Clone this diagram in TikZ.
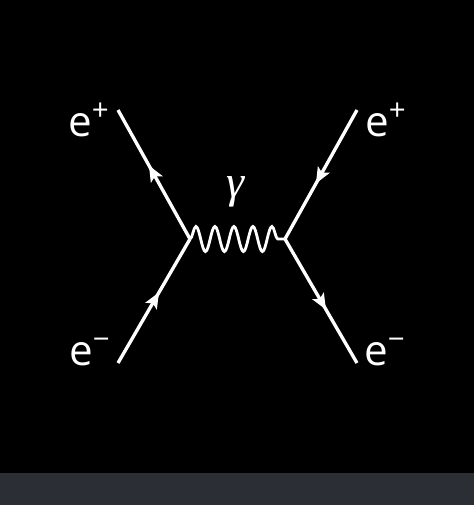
\documentclass[tikz,border=0pt]{standalone}
\usepackage{fontspec}
\setmainfont{Open Sans}
\newfontfamily\grkfont{Liberation Serif}
\usetikzlibrary{arrows.meta,decorations.markings,decorations.pathmorphing}

\tikzset{
  fermion/.style={draw=white, line width=1.9pt, postaction={decorate},
    decoration={markings, mark=at position 0.57 with
      {\arrow{Stealth[length=9pt,width=7.5pt,inset=2pt]}}}},
  photon/.style={draw=white, line width=1.6pt, decorate,
    decoration={snake, amplitude=0.25cm, segment length=0.38cm}},
  lbl/.style={text=white, font=\fontsize{24}{28}\selectfont, inner sep=0pt}
}

\begin{document}
\begin{tikzpicture}[x=0.02cm, y=-0.02cm]
      \fill [black] (0,0) rectangle (474,505);
      \fill [color={rgb,255:red,43;green,46;blue,53}] (0,473) rectangle (474,505);

      \coordinate (v1) at (190,239);
      \coordinate (v2) at (285,239);
      \coordinate (a1) at (118,110);
      \coordinate (b1) at (118,363);
      \coordinate (a2) at (357,110);
      \coordinate (b2) at (357,363);

      \draw [fermion] (v1) -- (a1);
      \draw [fermion] (b1) -- (v1);
      \draw [fermion] (a2) -- (v2);
      \draw [fermion] (v2) -- (b2);
      \draw [photon] (v1) -- (v2);

      \node [lbl] (ep1) at (89,120) {e\textsuperscript{+}};
      \node [lbl] (em1) at (90,352) {e\textsuperscript{−}};
      \node [lbl] (ep2) at (386,120) {e\textsuperscript{+}};
      \node [lbl] (em2) at (385,352) {e\textsuperscript{−}};
      \node [text=white, font=\grkfont\itshape\fontsize{26}{30}\selectfont] (gam) at (236,192) {γ};

    \end{tikzpicture}
\end{document}
